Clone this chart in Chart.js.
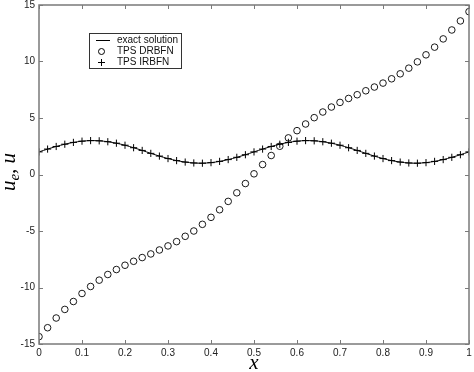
<!DOCTYPE html>
<html>
<head>
<meta charset="utf-8">
<script src="https://cdn.jsdelivr.net/npm/chart.js@4.4.1/dist/chart.umd.min.js"></script>
<style>
  body { margin: 0; background: #fff; }
  #wrap { width: 474px; height: 372px; }
</style>
</head>
<body>
<div id="wrap"><canvas id="chart" width="474" height="372"></canvas></div>
<script>
// x nodes, every 0.02 from 0 to 1
const xValues = [
  0, 0.02, 0.04, 0.06, 0.08, 0.1, 0.12, 0.14, 0.16, 0.18,
  0.2, 0.22, 0.24, 0.26, 0.28, 0.3, 0.32, 0.34, 0.36, 0.38,
  0.4, 0.42, 0.44, 0.46, 0.48, 0.5, 0.52, 0.54, 0.56, 0.58,
  0.6, 0.62, 0.64, 0.66, 0.68, 0.7, 0.72, 0.74, 0.76, 0.78,
  0.8, 0.82, 0.84, 0.86, 0.88, 0.9, 0.92, 0.94, 0.96, 0.98, 1
];

// exact solution (solid line)
const exactValues = [
  2.00, 2.25, 2.48, 2.68, 2.84, 2.95, 3.00, 2.98, 2.90, 2.77,
  2.59, 2.37, 2.13, 1.87, 1.63, 1.41, 1.23, 1.10, 1.02, 1.00,
  1.05, 1.16, 1.32, 1.52, 1.75, 2.00, 2.25, 2.48, 2.68, 2.84,
  2.95, 3.00, 2.98, 2.90, 2.77, 2.59, 2.37, 2.13, 1.87, 1.63,
  1.41, 1.23, 1.10, 1.02, 1.00, 1.05, 1.16, 1.32, 1.52, 1.75, 2.00
];

// TPS DRBFN (circles)
const drbfnValues = [
  -14.35, -13.56, -12.70, -11.94, -11.24, -10.53, -9.91, -9.35, -8.85, -8.41,
  -8.03, -7.68, -7.35, -7.03, -6.68, -6.32, -5.94, -5.47, -5.00, -4.41,
  -3.79, -3.12, -2.38, -1.62, -0.80, 0.06, 0.88, 1.68, 2.50, 3.24,
  3.88, 4.47, 5.03, 5.53, 5.97, 6.38, 6.73, 7.06, 7.41, 7.74,
  8.09, 8.47, 8.91, 9.41, 9.97, 10.59, 11.27, 12.00, 12.79, 13.59, 14.41
];

// TPS IRBFN (plus markers)
const irbfnValues = exactValues.slice();

const xTicks = [0, 0.1, 0.2, 0.3, 0.4, 0.5, 0.6, 0.7, 0.8, 0.9, 1];
const yTicks = [-15, -10, -5, 0, 5, 10, 15];

const seriesNames = ['exact solution', 'TPS DRBFN', 'TPS IRBFN'];

const toPoints = (ys) => xValues.map((x, i) => ({ x: x, y: ys[i] }));

const frameColor = '#7a7a7a';

// box, inward ticks on all sides, axis titles, legend
const frameAndLegend = {
  id: 'frameAndLegend',
  afterDatasetsDraw(chart) {
    const { ctx, chartArea: { left, top, right, bottom }, scales } = chart;
    ctx.save();
    ctx.strokeStyle = frameColor;
    ctx.lineWidth = 1.5;
    ctx.strokeRect(left, top, right - left, bottom - top);

    ctx.lineWidth = 1;
    ctx.beginPath();
    xTicks.forEach(v => {
      const px = Math.round(scales.x.getPixelForValue(v)) + 0.5;
      ctx.moveTo(px, bottom); ctx.lineTo(px, bottom - 4);
      ctx.moveTo(px, top); ctx.lineTo(px, top + 4);
    });
    yTicks.forEach(v => {
      const py = Math.round(scales.y.getPixelForValue(v)) + 0.5;
      ctx.moveTo(left, py); ctx.lineTo(left + 4, py);
      ctx.moveTo(right, py); ctx.lineTo(right - 4, py);
    });
    ctx.stroke();

    // legend
    const lx = 89, ly = 33, lw = 92, lh = 35;
    ctx.fillStyle = '#fff';
    ctx.fillRect(lx, ly, lw, lh);
    ctx.strokeStyle = '#333';
    ctx.lineWidth = 1;
    ctx.strokeRect(lx + 0.5, ly + 0.5, lw, lh);

    ctx.strokeStyle = '#000';
    ctx.beginPath();
    ctx.moveTo(96, 40.5); ctx.lineTo(110, 40.5);
    ctx.stroke();
    ctx.beginPath();
    ctx.arc(101.5, 51.5, 3, 0, Math.PI * 2);
    ctx.stroke();
    ctx.beginPath();
    ctx.moveTo(98, 62.5); ctx.lineTo(105, 62.5);
    ctx.moveTo(101.5, 59); ctx.lineTo(101.5, 66);
    ctx.stroke();

    ctx.fillStyle = '#111';
    ctx.font = '10px "Liberation Sans", Arial, sans-serif';
    ctx.textAlign = 'left';
    ctx.textBaseline = 'middle';
    ctx.fillText(seriesNames[0], 117, 40);
    ctx.fillText(seriesNames[1], 117, 51);
    ctx.fillText(seriesNames[2], 117, 62);

    // x title
    ctx.fillStyle = '#000';
    ctx.font = 'italic 21px "Liberation Serif", "Times New Roman", serif';
    ctx.textAlign = 'center';
    ctx.textBaseline = 'alphabetic';
    ctx.fillText('x', (left + right) / 2, 369);

    // y title with subscript
    ctx.save();
    ctx.translate(15, 172);
    ctx.rotate(-Math.PI / 2);
    ctx.textAlign = 'left';
    const big = 'italic 21px "Liberation Serif", "Times New Roman", serif';
    const small = 'italic 15px "Liberation Serif", "Times New Roman", serif';
    ctx.font = big;
    const w1 = ctx.measureText('u').width;
    ctx.font = small;
    const w2 = ctx.measureText('e').width;
    ctx.font = big;
    const w3 = ctx.measureText(', u').width;
    let sx = -(w1 + w2 + w3) / 2;
    ctx.fillText('u', sx, 0);
    sx += w1;
    ctx.font = small;
    ctx.fillText('e', sx, 4);
    sx += w2;
    ctx.font = big;
    ctx.fillText(', u', sx, 0);
    ctx.restore();

    ctx.restore();
  }
};

new Chart(document.getElementById('chart'), {
  type: 'scatter',
  data: {
    datasets: [
      {
        label: seriesNames[0],
        data: toPoints(exactValues),
        showLine: true,
        borderColor: '#000',
        borderWidth: 1,
        pointRadius: 0,
        tension: 0.3,
        order: 3
      },
      {
        label: seriesNames[1],
        data: toPoints(drbfnValues),
        showLine: false,
        pointStyle: 'circle',
        pointRadius: 3.3,
        borderColor: '#000',
        borderWidth: 0.9,
        backgroundColor: 'rgba(0,0,0,0)',
        order: 2
      },
      {
        label: seriesNames[2],
        data: toPoints(irbfnValues),
        showLine: false,
        pointStyle: 'cross',
        pointRadius: 3.6,
        borderColor: '#000',
        borderWidth: 1,
        order: 1
      }
    ]
  },
  options: {
    responsive: false,
    animation: false,
    layout: { padding: { top: 4, right: 4, left: 0, bottom: 0 } },
    plugins: {
      legend: { display: false },
      tooltip: { enabled: false }
    },
    scales: {
      x: {
        type: 'linear',
        min: 0,
        max: 1,
        afterBuildTicks: (scale) => { scale.ticks = xTicks.map(v => ({ value: v })); },
        afterFit: (scale) => {
          scale.height = 28;
          scale.paddingLeft = 0;
          scale.paddingRight = 0;
        },
        ticks: {
          padding: 3,
          color: '#222',
          font: { family: '"Liberation Sans", Arial, sans-serif', size: 10 },
          callback: (v) => String(v)
        },
        grid: { display: false, drawTicks: false },
        border: { display: false }
      },
      y: {
        min: -15,
        max: 15,
        afterBuildTicks: (scale) => { scale.ticks = yTicks.map(v => ({ value: v })); },
        afterFit: (scale) => {
          scale.width = 39;
          scale.paddingTop = 0;
          scale.paddingBottom = 0;
        },
        ticks: {
          padding: 4,
          color: '#222',
          font: { family: '"Liberation Sans", Arial, sans-serif', size: 10 },
          callback: (v) => String(v)
        },
        grid: { display: false, drawTicks: false },
        border: { display: false }
      }
    }
  },
  plugins: [frameAndLegend]
});
</script>
</body>
</html>
